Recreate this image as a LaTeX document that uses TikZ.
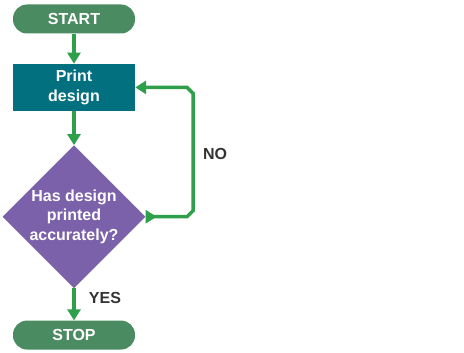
\documentclass[tikz,border=0pt]{standalone}
\usepackage{fontspec}
\setmainfont{Liberation Sans}
\usepackage{xcolor}
\usepackage{tikz}
\usetikzlibrary{arrows.meta,positioning,shapes.geometric,calc}
\definecolor{termgreen}{HTML}{4B8B61}
\definecolor{stepteal}{HTML}{02707F}
\definecolor{decpurple}{HTML}{7A61A9}
\definecolor{flowgreen}{HTML}{2E9F4A}
\definecolor{labelgrey}{HTML}{333333}

\begin{document}
\begin{tikzpicture}[
    x=1pt, y=1pt,
    every node/.style={font=\fontsize{16}{19.5}\selectfont\bfseries},
    terminal/.style={rounded corners=14pt, fill=termgreen, text=white, minimum width=122pt, minimum height=29pt, inner sep=0pt},
    process/.style={fill=stepteal, text=white, align=center, minimum width=122pt, minimum height=47pt, inner sep=0pt},
    decision/.style={diamond, fill=decpurple, text=white, align=center, inner sep=0pt, aspect=1},
    arrow/.style={-{Triangle[length=11pt,width=13pt]}, line width=3.5pt, draw=flowgreen},
    tag/.style={text=labelgrey}
]
\useasboundingbox (0,0) rectangle (464,-353);
\node[terminal] (start) at (74,-19) {START};
\node[process, below=30pt of start] (print) {Print\\design};
\node[decision, below=34pt of print] (check) {Has design\\printed\\accurately?};
\node[terminal, below=32pt of check] (stop) {STOP};
\coordinate (loopx) at (193,0);
\node[tag] (no) at (215,-154) {NO};
\node[tag] (yes) at (105,-298) {YES};
\draw[arrow] (start) -- (print);
\draw[arrow] (print) -- (check);
\draw[arrow] (check) -- (stop);
% loop back when the print is not accurate
\draw[arrow, {Triangle[reversed,length=11pt,width=13pt]}-{Triangle[length=11pt,width=13pt]}] (check.east)
    -- ($(check.east -| loopx)+(-6,0)$) -- ($(check.east -| loopx)+(0,6)$)
    -- ($(print.east -| loopx)+(0,-6)$) -- ($(print.east -| loopx)+(-6,0)$) -- (print.east);
\end{tikzpicture}
\end{document}
